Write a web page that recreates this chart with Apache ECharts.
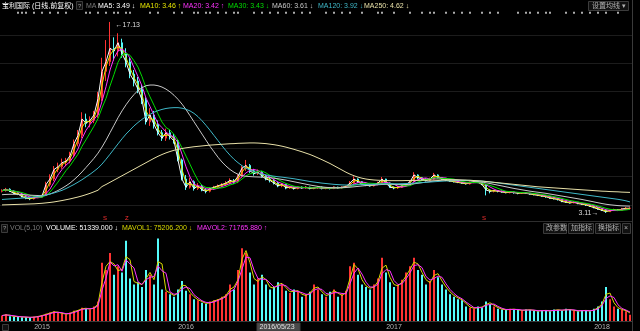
<!DOCTYPE html>
<html>
<head>
<meta charset="utf-8">
<script src="https://cdn.jsdelivr.net/npm/echarts@6/dist/echarts.min.js"></script>
<style>
  html, body { margin: 0; padding: 0; background: #000; }
  #main { width: 640px; height: 331px; }
</style>
</head>
<body>
<div id="main"></div>
<script>
// 周线数据（每周一），2015-07 ~ 2015-10 停牌
const dates = [
  '2014-10-27', '2014-11-03', '2014-11-10', '2014-11-17', '2014-11-24', '2014-12-01', '2014-12-08', '2014-12-15', '2014-12-22', '2014-12-29',
  '2015-01-05', '2015-01-12', '2015-01-19', '2015-01-26', '2015-02-02', '2015-02-09', '2015-02-16', '2015-02-23', '2015-03-02', '2015-03-09',
  '2015-03-16', '2015-03-23', '2015-03-30', '2015-04-06', '2015-04-13', '2015-04-20', '2015-04-27', '2015-05-04', '2015-05-11', '2015-05-18',
  '2015-05-25', '2015-06-01', '2015-06-08', '2015-06-15', '2015-06-22', '2015-06-29', '2015-07-06',
  '2015-11-02', '2015-11-09', '2015-11-16', '2015-11-23', '2015-11-30', '2015-12-07', '2015-12-14', '2015-12-21', '2015-12-28',
  '2016-01-04', '2016-01-11', '2016-01-18', '2016-01-25', '2016-02-01', '2016-02-08', '2016-02-15', '2016-02-22', '2016-02-29', '2016-03-07',
  '2016-03-14', '2016-03-21', '2016-03-28', '2016-04-04', '2016-04-11', '2016-04-18', '2016-04-25', '2016-05-02', '2016-05-09', '2016-05-16',
  '2016-05-23', '2016-05-30', '2016-06-06', '2016-06-13', '2016-06-20', '2016-06-27', '2016-07-04', '2016-07-11', '2016-07-18', '2016-07-25',
  '2016-08-01', '2016-08-08', '2016-08-15', '2016-08-22', '2016-08-29', '2016-09-05', '2016-09-12', '2016-09-19', '2016-09-26', '2016-10-03',
  '2016-10-10', '2016-10-17', '2016-10-24', '2016-10-31', '2016-11-07', '2016-11-14', '2016-11-21', '2016-11-28', '2016-12-05', '2016-12-12',
  '2016-12-19', '2016-12-26',
  '2017-01-02', '2017-01-09', '2017-01-16', '2017-01-23', '2017-01-30', '2017-02-06', '2017-02-13', '2017-02-20', '2017-02-27', '2017-03-06',
  '2017-03-13', '2017-03-20', '2017-03-27', '2017-04-03', '2017-04-10', '2017-04-17', '2017-04-24', '2017-05-01', '2017-05-08', '2017-05-15',
  '2017-05-22', '2017-05-29', '2017-06-05', '2017-06-12', '2017-06-19', '2017-06-26', '2017-07-03', '2017-07-10', '2017-07-17', '2017-07-24',
  '2017-07-31', '2017-08-07', '2017-08-14', '2017-08-21', '2017-08-28', '2017-09-04', '2017-09-11', '2017-09-18', '2017-09-25', '2017-10-02',
  '2017-10-09', '2017-10-16', '2017-10-23', '2017-10-30', '2017-11-06', '2017-11-13', '2017-11-20', '2017-11-27', '2017-12-04', '2017-12-11',
  '2017-12-18', '2017-12-25',
  '2018-01-01', '2018-01-08', '2018-01-15', '2018-01-22', '2018-01-29', '2018-02-05', '2018-02-12', '2018-02-19'
]

const opens = [
  4.70, 4.75, 4.85, 4.70, 4.55, 4.50, 4.30, 4.20, 4.15, 4.25,
  4.30, 4.40, 5.20, 5.60, 6.30, 6.50, 6.80, 6.90, 7.30, 8.20,
  8.80, 10.0, 9.70, 9.90, 10.3, 11.5, 13.5, 14.2, 15.2, 15.0,
  15.6, 14.8, 14.2, 13.3, 12.8, 12.2, 11.4, 9.80, 10.3, 9.60,
  9.00, 8.60, 9.00, 8.70, 8.40, 7.00, 5.60, 5.00, 5.40, 4.90,
  5.10, 4.80, 4.70, 4.90, 5.00, 5.10, 5.20, 5.30, 5.50, 5.40,
  5.80, 6.40, 6.60, 6.20, 6.00, 6.10, 5.80, 5.60, 5.50, 5.30,
  5.10, 5.20, 4.95, 5.00, 4.90, 5.00, 4.95, 5.00, 4.90, 4.95,
  5.00, 4.90, 4.95, 4.90, 5.00, 4.95, 5.00, 5.05, 5.30, 5.60,
  5.40, 5.20, 5.15, 5.10, 5.20, 5.30, 5.60, 5.30, 5.00, 4.95,
  5.00, 5.10, 5.20, 5.40, 5.90, 5.70, 5.60, 5.50, 5.60, 5.90,
  5.70, 5.60, 5.50, 5.45, 5.40, 5.35, 5.30, 5.25, 5.35, 5.40,
  5.35, 5.20, 4.80, 4.70, 4.75, 4.70, 4.65, 4.60, 4.65, 4.60,
  4.55, 4.60, 4.55, 4.50, 4.45, 4.40, 4.35, 4.30, 4.20, 4.15,
  4.10, 3.95, 3.90, 3.85, 3.90, 3.80, 3.75, 3.70, 3.60, 3.50,
  3.40, 3.30, 3.20, 3.30, 3.35, 3.30, 3.40, 3.45
]
const closes = [
  4.75, 4.85, 4.70, 4.55, 4.50, 4.30, 4.20, 4.15, 4.25, 4.30,
  4.35, 5.20, 5.60, 6.30, 6.50, 6.80, 6.90, 7.30, 8.20, 8.80,
  10.0, 9.70, 9.90, 10.3, 11.5, 13.5, 14.2, 15.2, 15.0, 15.6,
  14.8, 14.2, 13.3, 12.8, 12.2, 11.4, 9.80, 10.3, 9.60, 9.00,
  8.60, 9.00, 8.70, 8.40, 7.00, 5.60, 5.00, 5.40, 4.90, 5.10,
  4.80, 4.70, 4.90, 5.00, 5.10, 5.20, 5.30, 5.50, 5.40, 5.80,
  6.40, 6.60, 6.20, 6.00, 6.10, 5.80, 5.60, 5.50, 5.30, 5.10,
  5.20, 4.95, 5.00, 4.90, 5.00, 4.95, 5.00, 4.90, 4.95, 5.00,
  4.90, 4.95, 4.90, 5.00, 4.95, 5.00, 5.05, 5.30, 5.60, 5.40,
  5.20, 5.15, 5.10, 5.20, 5.30, 5.60, 5.30, 5.00, 4.95, 5.00,
  5.10, 5.20, 5.40, 5.90, 5.70, 5.60, 5.50, 5.60, 5.90, 5.70,
  5.60, 5.50, 5.45, 5.40, 5.35, 5.30, 5.25, 5.35, 5.40, 5.35,
  5.20, 4.80, 4.70, 4.75, 4.70, 4.65, 4.60, 4.65, 4.60, 4.55,
  4.60, 4.55, 4.50, 4.45, 4.40, 4.35, 4.30, 4.20, 4.15, 4.10,
  3.95, 3.90, 3.85, 3.90, 3.80, 3.75, 3.70, 3.60, 3.50, 3.40,
  3.30, 3.20, 3.30, 3.35, 3.30, 3.40, 3.45, 3.45
]
const highs = [
  4.85, 4.95, 4.92, 4.78, 4.62, 4.58, 4.38, 4.28, 4.32, 4.40,
  4.45, 5.40, 5.95, 6.55, 6.80, 7.10, 7.15, 7.60, 8.50, 9.20,
  10.5, 10.4, 10.2, 10.6, 12.0, 14.5, 15.8, 17.13, 16.0, 16.3,
  15.9, 15.2, 14.5, 13.6, 13.1, 12.5, 11.6, 10.8, 10.6, 9.90,
  9.20, 9.30, 9.20, 8.90, 8.50, 7.10, 5.90, 5.70, 5.50, 5.30,
  5.20, 4.95, 5.00, 5.10, 5.20, 5.30, 5.45, 5.65, 5.60, 5.95,
  6.60, 7.00, 6.70, 6.35, 6.30, 6.20, 5.90, 5.70, 5.60, 5.40,
  5.30, 5.25, 5.08, 5.05, 5.06, 5.06, 5.08, 5.04, 5.00, 5.06,
  5.05, 5.00, 5.00, 5.06, 5.04, 5.06, 5.12, 5.45, 5.80, 5.65,
  5.45, 5.28, 5.20, 5.25, 5.40, 5.75, 5.62, 5.35, 5.05, 5.08,
  5.15, 5.25, 5.50, 6.10, 5.95, 5.75, 5.65, 5.70, 6.05, 5.95,
  5.75, 5.65, 5.55, 5.50, 5.45, 5.40, 5.35, 5.42, 5.50, 5.45,
  5.38, 5.22, 4.85, 4.80, 4.80, 4.75, 4.70, 4.70, 4.68, 4.62,
  4.65, 4.64, 4.58, 4.55, 4.50, 4.45, 4.40, 4.35, 4.25, 4.20,
  4.12, 4.00, 3.95, 3.98, 3.92, 3.85, 3.80, 3.75, 3.65, 3.55,
  3.45, 3.35, 3.35, 3.42, 3.40, 3.48, 3.55, 3.52
]
const lows = [
  4.62, 4.68, 4.65, 4.50, 4.42, 4.25, 4.12, 4.05, 4.10, 4.20,
  4.22, 4.35, 5.05, 5.45, 6.10, 6.35, 6.55, 6.75, 7.20, 8.00,
  8.60, 9.40, 9.40, 9.70, 10.1, 11.3, 12.8, 13.9, 14.3, 14.6,
  14.5, 13.8, 13.0, 12.4, 11.9, 11.1, 9.60, 9.50, 9.30, 8.80,
  8.40, 8.40, 8.50, 8.20, 6.90, 5.50, 4.80, 4.90, 4.75, 4.80,
  4.70, 4.55, 4.62, 4.80, 4.90, 5.00, 5.10, 5.20, 5.25, 5.30,
  5.70, 6.20, 6.05, 5.85, 5.90, 5.70, 5.50, 5.35, 5.20, 5.00,
  5.00, 4.85, 4.88, 4.82, 4.85, 4.88, 4.88, 4.84, 4.85, 4.88,
  4.84, 4.85, 4.84, 4.86, 4.88, 4.90, 4.95, 5.00, 5.25, 5.30,
  5.15, 5.08, 5.05, 5.05, 5.15, 5.25, 5.25, 4.95, 4.85, 4.88,
  4.95, 5.05, 5.15, 5.35, 5.60, 5.50, 5.42, 5.45, 5.55, 5.62,
  5.55, 5.45, 5.40, 5.35, 5.30, 5.25, 5.20, 5.20, 5.30, 5.30,
  5.15, 4.40, 4.55, 4.62, 4.62, 4.60, 4.55, 4.55, 4.52, 4.48,
  4.50, 4.50, 4.45, 4.40, 4.35, 4.30, 4.22, 4.15, 4.10, 4.02,
  3.90, 3.85, 3.80, 3.82, 3.75, 3.70, 3.62, 3.55, 3.45, 3.35,
  3.25, 3.11, 3.18, 3.25, 3.25, 3.28, 3.38, 3.40
]
const volumes = [
  45000, 55000, 40000, 35000, 38000, 30000, 32000, 28000, 35000, 40000,
  50000, 60000, 70000, 80000, 65000, 60000, 55000, 70000, 85000, 90000,
  110000, 100000, 95000, 120000, 160000, 480000, 420000, 560000, 380000, 450000,
  400000, 660000, 350000, 300000, 320000, 280000, 420000, 380000, 300000, 680000,
  260000, 240000, 220000, 200000, 260000, 330000, 250000, 220000, 180000, 170000,
  150000, 140000, 160000, 170000, 180000, 200000, 220000, 300000, 260000, 420000,
  600000, 560000, 400000, 300000, 350000, 380000, 300000, 260000, 280000, 320000,
  300000, 250000, 230000, 260000, 240000, 200000, 220000, 240000, 300000, 260000,
  220000, 200000, 240000, 260000, 200000, 220000, 250000, 450000, 480000, 380000,
  300000, 280000, 260000, 300000, 350000, 520000, 400000, 320000, 280000, 300000,
  340000, 400000, 450000, 520000, 420000, 380000, 300000, 330000, 420000, 360000,
  300000, 260000, 220000, 200000, 180000, 170000, 120000, 110000, 100000, 120000,
  110000, 160000, 140000, 120000, 100000, 95000, 90000, 100000, 95000, 90000,
  85000, 95000, 90000, 85000, 80000, 90000, 85000, 80000, 95000, 90000,
  85000, 100000, 90000, 85000, 80000, 90000, 85000, 80000, 100000, 120000,
  160000, 280000, 180000, 120000, 100000, 90000, 80000, 51339
]
// 长期均线
const ma60 = [
  4.45, 4.47, 4.48, 4.48, 4.47, 4.46, 4.44, 4.42, 4.40, 4.39, 4.38,
  4.42, 4.50, 4.62, 4.76, 4.92, 5.10, 5.30, 5.55, 5.82, 6.12,
  6.45, 6.78, 7.12, 7.50, 7.95, 8.45, 9.00, 9.55, 10.1, 10.6,
  11.05, 11.45, 11.8, 12.1, 12.3, 12.45, 12.5, 12.5, 12.45, 12.35,
  12.2, 12.0, 11.75, 11.45, 11.1, 10.7, 10.25, 9.8, 9.35, 8.9,
  8.45, 8.0, 7.6, 7.2, 6.85, 6.55, 6.3, 6.1, 5.95, 5.85,
  5.8, 5.78, 5.76, 5.75, 5.74, 5.72, 5.70, 5.66, 5.62, 5.57,
  5.52, 5.46, 5.40, 5.34, 5.28, 5.22, 5.16, 5.11, 5.06, 5.02,
  4.99, 4.97, 4.96, 4.96, 4.97, 4.98, 5.00, 5.03, 5.06, 5.09,
  5.12, 5.14, 5.16, 5.18, 5.20, 5.21, 5.21, 5.20, 5.19, 5.19,
  5.20, 5.22, 5.25, 5.29, 5.33, 5.37, 5.41, 5.45, 5.49, 5.52,
  5.54, 5.55, 5.55, 5.54, 5.52, 5.50, 5.47, 5.44, 5.41, 5.38,
  5.33, 5.27, 5.21, 5.15, 5.09, 5.03, 4.97, 4.91, 4.86, 4.81,
  4.76, 4.71, 4.67, 4.63, 4.59, 4.55, 4.50, 4.45, 4.40, 4.35,
  4.30, 4.25, 4.20, 4.15, 4.10, 4.04, 3.98, 3.92, 3.86, 3.80,
  3.75, 3.71, 3.68, 3.65, 3.63, 3.62, 3.61
]
const ma120 = [
  4.10, 4.12, 4.14, 4.16, 4.18, 4.20, 4.22, 4.25, 4.28,
  4.32, 4.36, 4.42, 4.50, 4.58, 4.67, 4.77, 4.90,
  5.05, 5.20, 5.37, 5.55, 5.75, 5.95, 6.17, 6.40,
  6.70, 7.05, 7.42, 7.80, 8.18, 8.55, 8.90,
  9.20, 9.50, 9.75, 9.98, 10.18, 10.35,
  10.50, 10.62, 10.71, 10.78, 10.82, 10.84, 10.84, 10.80, 10.72, 10.60,
  10.42, 10.18, 9.88, 9.54, 9.18, 8.80, 8.42, 8.04,
  7.68, 7.35, 7.05, 6.80, 6.58, 6.40, 6.26, 6.14,
  6.04, 5.96, 5.90, 5.85, 5.81, 5.77, 5.74,
  5.70, 5.66, 5.62, 5.57, 5.52, 5.47, 5.42, 5.38, 5.34,
  5.30, 5.27, 5.24, 5.21, 5.19, 5.17, 5.16, 5.16, 5.17, 5.18, 5.19, 5.20, 5.21, 5.22, 5.23, 5.24, 5.25, 5.25,
  5.25, 5.25, 5.26, 5.27, 5.28, 5.30, 5.32, 5.34, 5.36, 5.38, 5.40, 5.42, 5.44, 5.46, 5.47, 5.48, 5.49, 5.50, 5.50, 5.50,
  5.49, 5.47, 5.45, 5.42, 5.39, 5.35, 5.31, 5.27, 5.23, 5.19,
  5.15, 5.11, 5.07, 5.03, 4.99, 4.95, 4.91, 4.87, 4.83, 4.79,
  4.75, 4.71, 4.67, 4.63, 4.59, 4.55, 4.51, 4.47, 4.43, 4.39,
  4.35, 4.31, 4.27, 4.23, 4.19, 4.15, 4.11, 4.06, 4.00, 3.92
]
const ma250 = [
  3.70, 3.71, 3.72, 3.73, 3.74, 3.75, 3.76, 3.77, 3.78, 3.80, 3.82, 3.85, 3.88,
  3.92, 3.97, 4.02, 4.08, 4.14, 4.21, 4.28, 4.36, 4.45, 4.55, 4.66, 4.78,
  5.05, 5.20, 5.36, 5.52, 5.68, 5.84, 6.00, 6.16, 6.32, 6.48, 6.64, 6.80,
  6.96, 7.12, 7.27, 7.40, 7.52, 7.62, 7.71, 7.78, 7.84, 7.89, 7.93, 7.97,
  8.00, 8.03, 8.06, 8.09, 8.11, 8.13, 8.15, 8.17, 8.19, 8.20, 8.22, 8.23,
  8.24, 8.25, 8.25, 8.24, 8.22, 8.20, 8.16, 8.12, 8.07, 8.01, 7.94, 7.86,
  7.78, 7.69, 7.60, 7.50, 7.40, 7.28, 7.15, 7.02, 6.88, 6.74, 6.58, 6.42,
  6.26, 6.10, 5.96, 5.84, 5.74, 5.66, 5.60, 5.56, 5.53, 5.51, 5.50, 5.49,
  5.48, 5.48,
  5.48, 5.48, 5.49, 5.49, 5.50, 5.50, 5.51, 5.51, 5.52, 5.52, 5.52, 5.53, 5.53, 5.53, 5.53, 5.53, 5.52, 5.52, 5.51,
  5.49, 5.47, 5.45, 5.42, 5.39, 5.36, 5.33, 5.30, 5.27, 5.24, 5.21, 5.18, 5.15, 5.12, 5.09, 5.06, 5.03,
  5.01, 4.99, 4.97, 4.95, 4.93, 4.91, 4.89, 4.87, 4.85, 4.83, 4.81, 4.79, 4.77, 4.75, 4.73, 4.71, 4.70,
  4.68, 4.67, 4.66, 4.64, 4.63, 4.62
]
// 信息地雷所在周（序号）
const mineIdx = [
  4, 5, 6, 8, 10, 12, 14, 16, 21, 22, 24, 26, 28, 29, 31, 32, 37, 39, 43, 45,
  48, 49, 51, 52, 54, 56, 58, 59, 63, 65, 67, 69, 71, 73, 75, 77, 81, 83, 85, 87,
  90, 94, 95, 98, 102, 105, 107, 108, 111, 113, 115, 117, 120, 122, 124, 129, 131, 132, 134, 136,
  137, 141, 143, 145, 147, 149, 151, 154
]

const upColor = '#ff3232'
const downColor = '#54fcfc'
const font = '"Liberation Sans", "Noto Sans CJK SC", sans-serif'

// 短期均线按周线窗口计算（不足窗口时取已有均值）
function calcMA (arr, n) {
  return arr.map((v, i) => {
    let s = arr.slice(Math.max(0, i - n + 1), i + 1)
    return +(s.reduce((a, b) => a + b, 0) / s.length).toFixed(3)
  })
}

let candle = dates.map((d, i) => [opens[i], closes[i], lows[i], highs[i]])
let volData = volumes.map((v, i) => ({
  value: v,
  itemStyle: { color: closes[i] >= opens[i] ? upColor : downColor }
}))
let mineData = mineIdx.map(i => [dates[i], 17.8])

function txt (x, y, text, color, size) {
  return {
    type: 'text',
    x: x,
    y: y,
    silent: true,
    style: { text: text, fill: color, font: (size || 7) + 'px ' + font, textVerticalAlign: 'middle', verticalAlign: 'middle' }
  }
}
function box (x, y, w, h, fill) {
  return {
    type: 'rect',
    silent: true,
    shape: { x: x, y: y, width: w, height: h },
    style: { fill: fill || '#111', stroke: '#3c3c3c', lineWidth: 1 }
  }
}
function line (x1, y1, x2, y2, color) {
  return {
    type: 'line',
    silent: true,
    shape: { x1: x1, y1: y1, x2: x2, y2: y2 },
    style: { stroke: color, lineWidth: 1 }
  }
}

function maLine (name, data, color) {
  return {
    name: name,
    type: 'line',
    xAxisIndex: 0,
    yAxisIndex: 0,
    data: data,
    showSymbol: false,
    symbol: 'none',
    silent: true,
    lineStyle: { width: 1, color: color },
    z: 3
  }
}

let myChart = echarts.init(document.getElementById('main'))
let option = {
  backgroundColor: '#000',
  animation: false,
  grid: [
    { left: 0, right: 8, top: 15, height: 203 },
    { left: 0, right: 8, top: 236, height: 86 },
    { left: 0, right: 8, top: 35, height: 170 } // 网格线
  ],
  xAxis: [
    {
      type: 'category',
      gridIndex: 0,
      data: dates,
      boundaryGap: true,
      axisLine: { show: false },
      axisTick: { show: false },
      axisLabel: { show: false }
    },
    {
      type: 'category',
      gridIndex: 1,
      data: dates,
      boundaryGap: true,
      axisLine: { show: true, lineStyle: { color: '#3a3a3a' } },
      axisTick: { show: false },
      axisLabel: {
        color: '#b4b4b4',
        fontSize: 7,
        fontFamily: font,
        margin: 3,
        // 只显示每年的第一周
        interval: function (idx, val) {
          return idx > 0 && val.slice(0, 4) !== dates[idx - 1].slice(0, 4)
        },
        formatter: function (val) {
          return val.slice(0, 4)
        }
      }
    },
    {
      type: 'value',
      gridIndex: 2,
      min: 0,
      max: 1,
      show: false
    }
  ],
  yAxis: [
    {
      type: 'value',
      gridIndex: 0,
      min: 2.74,
      max: 17.64,
      show: false
    },
    {
      type: 'value',
      gridIndex: 1,
      min: 0,
      max: 700000,
      show: false
    },
    {
      type: 'value',
      gridIndex: 2,
      min: 0,
      max: 6,
      interval: 1,
      axisLine: { show: false },
      axisTick: { show: false },
      axisLabel: { show: false },
      splitLine: { show: true, lineStyle: { color: '#1c1c1c', width: 1 } }
    }
  ],
  series: [
    {
      name: 'K',
      type: 'candlestick',
      xAxisIndex: 0,
      yAxisIndex: 0,
      data: candle,
      barMaxWidth: 3,
      silent: true,
      z: 2,
      itemStyle: {
        color: '#000',
        color0: downColor,
        borderColor: upColor,
        borderColor0: downColor,
        borderWidth: 1
      },
      markPoint: {
        symbol: 'circle',
        symbolSize: 1,
        silent: true,
        itemStyle: { color: 'rgba(0,0,0,0)' },
        data: [
          {
            coord: [dates[27], 17.13],
            label: { show: true, position: 'right', formatter: '←17.13', color: '#dcdcdc', fontSize: 7, fontFamily: font, offset: [0, 3] }
          },
          {
            coord: [dates[151], 3.11],
            label: { show: true, position: 'left', formatter: '3.11→', color: '#dcdcdc', fontSize: 7, fontFamily: font, offset: [-2, 0] }
          }
        ]
      }
    },
    maLine('MA5', calcMA(closes, 1), '#ffffff'),
    maLine('MA10', calcMA(closes, 2), '#e6e600'),
    maLine('MA20', calcMA(closes, 4), '#ff33ff'),
    maLine('MA30', calcMA(closes, 6), '#00dd00'),
    maLine('MA60', ma60, '#c8c8c8'),
    maLine('MA120', ma120, '#3fb8c8'),
    maLine('MA250', ma250, '#e8e0a8'),
    {
      name: '信息地雷',
      type: 'scatter',
      xAxisIndex: 0,
      yAxisIndex: 0,
      data: mineData,
      symbol: 'rect',
      symbolSize: [2, 2],
      clip: false,
      silent: true,
      itemStyle: { color: '#d8d8d8' }
    },
    {
      name: 'VOLUME',
      type: 'bar',
      xAxisIndex: 1,
      yAxisIndex: 1,
      data: volData,
      barWidth: 2,
      silent: true
    },
    {
      name: 'MAVOL1',
      type: 'line',
      xAxisIndex: 1,
      yAxisIndex: 1,
      data: calcMA(volumes, 2),
      symbol: 'none',
      silent: true,
      lineStyle: { width: 1, color: '#d8d800' }
    },
    {
      name: 'MAVOL2',
      type: 'line',
      xAxisIndex: 1,
      yAxisIndex: 1,
      data: calcMA(volumes, 3),
      symbol: 'none',
      silent: true,
      lineStyle: { width: 1, color: '#ff33ff' }
    }
  ],
  graphic: [
    line(632.5, 0, 632.5, 331, '#3a3a3a'),
    line(0, 221.5, 632, 221.5, '#2e2e2e'),
    // 主图标题
    txt(2, 6, '宝利国际 (日线,前复权)', '#ffffff', 7),
    box(76.5, 1.5, 6, 8),
    txt(78, 6, '?', '#9a9a9a', 6),
    txt(86, 6, 'MA', '#7a7a7a', 7),
    txt(98, 6, 'MA5: 3.49 ↓', '#ffffff', 7),
    txt(140, 6, 'MA10: 3.46 ↑', '#e6e600', 7),
    txt(183, 6, 'MA20: 3.42 ↑', '#ff33ff', 7),
    txt(228, 6, 'MA30: 3.43 ↓', '#00dd00', 7),
    txt(272, 6, 'MA60: 3.61 ↓', '#c8c8c8', 7),
    txt(318, 6, 'MA120: 3.92 ↓', '#3fb8c8', 7),
    txt(364, 6, 'MA250: 4.62 ↓', '#e8e0a8', 7),
    box(588.5, 1.5, 40, 9),
    txt(592, 6, '设置均线 ▾', '#b4b4b4', 7),
    // 信号标记
    txt(103, 218, 'S', upColor, 6),
    txt(125, 218, 'Z', upColor, 6),
    txt(482, 218, 'S', upColor, 6),
    // 成交量标题
    box(1.5, 224.5, 6, 8),
    txt(3, 228.5, '?', '#9a9a9a', 6),
    txt(10, 228.5, 'VOL(5,10)', '#7a7a7a', 7),
    txt(46, 228.5, 'VOLUME: 51339.000 ↓', '#ffffff', 7),
    txt(122, 228.5, 'MAVOL1: 75206.200 ↓', '#d8d800', 7),
    txt(197, 228.5, 'MAVOL2: 71765.880 ↑', '#ff33ff', 7),
    box(543.5, 223.5, 23, 10),
    txt(546, 228.5, '改参数', '#b4b4b4', 7),
    box(568.5, 223.5, 25, 10),
    txt(571, 228.5, '加指标', '#b4b4b4', 7),
    box(595.5, 223.5, 25, 10),
    txt(598, 228.5, '换指标', '#b4b4b4', 7),
    box(622.5, 223.5, 8, 10),
    txt(624, 228.5, '×', '#b4b4b4', 7),
    box(2.5, 324.5, 6, 6),
    // 十字光标日期
    box(257, 323, 43, 8, '#4a4a4a'),
    txt(259.5, 327, '2016/05/23', '#e0e0e0', 7)
  ]
}
myChart.setOption(option, true)
</script>
</body>
</html>
